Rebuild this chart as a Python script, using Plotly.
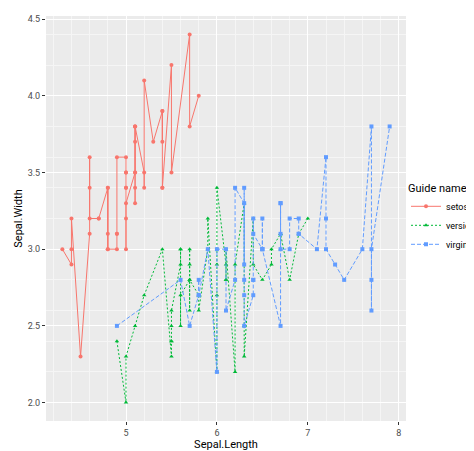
import plotly.graph_objects as go

setosa_x = [5.1,4.9,4.7,4.6,5.0,5.4,4.6,5.0,4.4,4.9,5.4,4.8,4.8,4.3,5.8,5.7,5.4,5.1,5.7,5.1,5.4,5.1,4.6,5.1,4.8,5.0,5.0,5.2,5.2,4.7,4.8,5.4,5.2,5.5,4.9,5.0,5.5,4.9,4.4,5.1,5.0,4.5,4.4,5.0,5.1,4.8,5.1,4.6,5.3,5.0]
setosa_y = [3.5,3.0,3.2,3.1,3.6,3.9,3.4,3.4,2.9,3.1,3.7,3.4,3.0,3.0,4.0,4.4,3.9,3.5,3.8,3.8,3.4,3.7,3.6,3.3,3.4,3.0,3.4,3.5,3.4,3.2,3.1,3.4,4.1,4.2,3.1,3.2,3.5,3.6,3.0,3.4,3.5,2.3,3.2,3.5,3.8,3.0,3.8,3.2,3.7,3.3]
versicolor_x = [7.0,6.4,6.9,5.5,6.5,5.7,6.3,4.9,6.6,5.2,5.0,5.9,6.0,6.1,5.6,6.7,5.6,5.8,6.2,5.6,5.9,6.1,6.3,6.1,6.4,6.6,6.8,6.7,6.0,5.7,5.5,5.5,5.8,6.0,5.4,6.0,6.7,6.3,5.6,5.5,5.5,6.1,5.8,5.0,5.6,5.7,5.7,6.2,5.1,5.7]
versicolor_y = [3.2,3.2,3.1,2.3,2.8,2.8,3.3,2.4,2.9,2.7,2.0,3.0,2.2,2.9,2.9,3.1,3.0,2.7,2.2,2.5,3.2,2.8,2.5,2.8,2.9,3.0,2.8,3.0,2.9,2.6,2.4,2.4,2.7,2.7,3.0,3.4,3.1,2.3,3.0,2.5,2.6,3.0,2.6,2.3,2.7,3.0,2.9,2.9,2.5,2.8]
virginica_x = [6.3,5.8,7.1,6.3,6.5,7.6,4.9,7.3,6.7,7.2,6.5,6.4,6.8,5.7,5.8,6.4,6.5,7.7,7.7,6.0,6.9,5.6,7.7,6.3,6.7,7.2,6.2,6.1,6.4,7.2,7.4,7.9,6.4,6.3,6.1,7.7,6.3,6.4,6.0,6.9,6.7,6.9,5.8,6.8,6.7,6.7,6.3,6.5,6.2,5.9]
virginica_y = [3.3,2.7,3.0,2.9,3.0,3.0,2.5,2.9,2.5,3.6,3.2,2.7,3.0,2.5,2.8,3.2,3.0,3.8,2.6,2.2,3.2,2.8,2.8,2.7,3.3,3.2,2.8,3.0,2.8,3.0,2.8,3.8,2.8,2.8,2.6,3.0,3.4,3.1,3.0,3.1,3.1,3.1,2.7,3.2,3.3,3.0,2.5,3.0,3.4,3.0]

series = [
    ("setosa", setosa_x, setosa_y, "#F8766D", "solid", "circle"),
    ("versicolor", versicolor_x, versicolor_y, "#00BA38", "2px,2px", "triangle-up"),
    ("virginica", virginica_x, virginica_y, "#619CFF", "4px,2px", "square"),
]

fig = go.Figure()
for name, xs, ys, col, dash, sym in series:
    idx = sorted(range(len(xs)), key=lambda i: xs[i])
    fig.add_trace(go.Scatter(
        x=[xs[i] for i in idx], y=[ys[i] for i in idx], name=name,
        mode="lines+markers",
        line=dict(color=col, width=1, dash=dash),
        marker=dict(color=col, symbol=sym, size=4),
    ))

axis = dict(showgrid=True, gridcolor="white", gridwidth=1.2, zeroline=False,
            ticks="outside", ticklen=3, tickcolor="#333333",
            tickfont=dict(size=9, color="#4D4D4D"),
            minor=dict(showgrid=True, gridcolor="#F5F5F5", gridwidth=0.6))
fig.update_layout(
    width=474, height=451,
    margin=dict(l=38, r=76, t=8, b=38, autoexpand=False),
    paper_bgcolor="white", plot_bgcolor="#EBEBEB",
    font=dict(family="Roboto", color="black"),
    xaxis=dict(axis, range=[4.12, 8.08], tickvals=[5, 6, 7, 8],
               title=dict(text="Sepal.Length", font=dict(size=11), standoff=2)),
    yaxis=dict(axis, range=[1.88, 4.52], tickvals=[2.0, 2.5, 3.0, 3.5, 4.0, 4.5],
               ticktext=["2.0", "2.5", "3.0", "3.5", "4.0", "4.5"],
               title=dict(text="Sepal.Width", font=dict(size=11), standoff=2)),
    legend=dict(title=dict(text="Guide name", font=dict(size=11)),
                font=dict(size=9), x=1.0, xanchor="left", y=0.5, yanchor="middle",
                bgcolor="white", tracegroupgap=0, itemwidth=30),
)
fig.write_html("out.html")
